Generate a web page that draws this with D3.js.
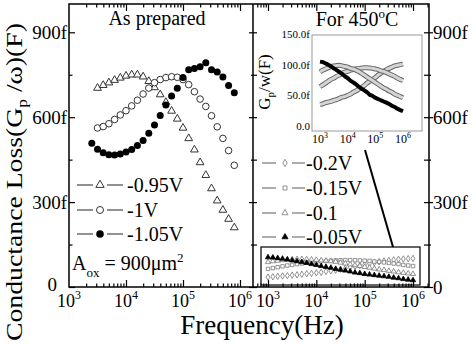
<!DOCTYPE html>
<html><head><meta charset="utf-8">
<script src="https://cdn.jsdelivr.net/npm/d3@7"></script>
<style>
body{margin:0;background:#fff}
svg{display:block}
text{font-family:"Liberation Serif","Times New Roman",serif;fill:#000}
</style>
</head><body>
<svg id="c" width="474" height="346"></svg>
<script>
// ---------- DATA ----------
// Left panel ("As prepared"), log10 of frequency (Hz)
const expLeftA = [3.5,3.6,3.7,3.8,3.9,4.0,4.1,4.2,4.3,4.4,4.5,4.6,4.7,4.8,4.9,5.0,5.1,5.2,5.3,5.4,5.5,5.6,5.7,5.8,5.9];
const expLeftB = [3.4,3.5,3.6,3.7,3.8,3.9,4.0,4.1,4.2,4.3,4.4,4.5,4.6,4.7,4.8,4.9,5.0,5.1,5.2,5.3,5.4,5.5,5.6,5.7,5.8,5.9];
// values in fF
const vNeg095 = [703,713,722,731,739,746,750,750,743,727,705,680,653,622,594,562,525,485,440,395,348,305,272,240,210];
const vNeg1   = [562,567,577,592,608,623,640,660,682,703,722,733,740,743,741,733,715,690,664,638,605,566,525,482,430];
const vNeg105 = [508,487,474,467,466,470,477,486,500,518,543,572,606,643,675,702,740,768,772,778,792,768,760,742,712,686];
const leftLabels = ["-0.95V","-1V","-1.05V"];

// Right panel ("For 450°C")
const expRight = [3.0,3.1,3.2,3.3,3.4,3.5,3.6,3.7,3.8,3.9,4.0,4.1,4.2,4.3,4.4,4.5,4.6,4.7,4.8,4.9,5.0,5.1,5.2,5.3,5.4,5.5,5.6,5.7,5.8,5.9,6.0];
const vNeg02  = [35,36,38,39,40,42,43,45,47,48,50,52,55,57,60,63,66,70,73,76,79,83,86,89,92,94,96,98,99,100,101];
const vNeg015 = [64,67,70,73,76,78,81,83,86,88,89,91,92,93,94,94.5,95,95,94.5,94,93,92,90,89,87,85,83,81,78,76,74];
const vNeg01  = [88,91,93,95,97,98,98.5,99,98,97,96,94,93,91,89,86,83,80,77,74,71,68,65,62,60,57,55,52,50,48,46];
const vNeg005 = [105,104,102,100,97,94,91,88,85,81,78,74,71,68,64,61,58,55,51,49,46,44,42,40,38,36,33,31,28,26,24];
const rightLabels = ["-0.2V","-0.15V","-0.1","-0.05V"];

// Axis tick labels
const yTicks = [0,300,600,900];
const yTickLabels = ["0","300f","600f","900f"];
const yMinor = [150,450,750];
const xMajorExp = [3,4,5,6];
const insetYTicks = [0,50,100,150];
const insetYLabels = ["0.0","50.0f","100.0f","150.0f"];

// ---------- SCALES ----------
const svg = d3.select("#c");
const y  = d3.scaleLinear().domain([0,1000]).range([287,4]);
const xL = d3.scaleLog().domain([1e3,1e6]).range([69,240]);
const xR = d3.scaleLog().domain([1e3,1e6]).range([268,413]);
const xI = d3.scaleLog().domain([1e3,1e6]).range([320,403]);
const yI = d3.scaleLinear().domain([0,150]).range([126,34]);
const P = e => Math.pow(10,e);

const FRAME = {l:69, r:429, t:4, b:287, div:253};

// ---------- AXES / TICKS ----------
function logTicks(scale, lo, hi, minor){
  const out=[];
  for(let k=2;k<=6;k++) for(let m=1;m<=9;m++){
    const v=m*Math.pow(10,k); const px=scale(v);
    if(px>lo+0.5 && px<hi-0.5 && ((m===1)!==minor)) out.push(v);
  }
  return out;
}
function xAxes(scale, lo, hi){
  const maj = logTicks(scale,lo,hi,false), min = logTicks(scale,lo,hi,true);
  [[maj,7],[min,3.5]].forEach(([vals,len])=>{
    const gb = svg.append("g").attr("transform",`translate(0,${FRAME.b})`)
      .call(d3.axisBottom(scale).tickValues(vals).tickSize(-len).tickFormat(""));
    const gt = svg.append("g").attr("transform",`translate(0,${FRAME.t})`)
      .call(d3.axisTop(scale).tickValues(vals).tickSize(-len).tickFormat(""));
    [gb,gt].forEach(g=>{g.select(".domain").remove(); g.selectAll("line").attr("stroke","#000").attr("stroke-width",1.2);});
  });
  xMajorExp.forEach(e=>{
    const t = svg.append("text").attr("x",scale(P(e))).attr("y",307).attr("text-anchor","middle").style("font-size","18px");
    t.append("tspan").text("10");
    t.append("tspan").attr("dy",-8).style("font-size","12px").text(String(e));
  });
}
xAxes(xL, FRAME.l, FRAME.div);
xAxes(xR, FRAME.div, FRAME.r);

function yAxis(x, gen, majLen, minLen){
  [[yTicks,majLen],[yMinor,minLen]].forEach(([vals,len])=>{
    const g = svg.append("g").attr("transform",`translate(${x},0)`)
      .call(gen(y).tickValues(vals).tickSize(len).tickFormat(""));
    g.select(".domain").remove();
    g.selectAll("line").attr("stroke","#000").attr("stroke-width",1.2);
  });
}
yAxis(FRAME.l, d3.axisLeft, -6, -3.5);
yAxis(FRAME.div+4, d3.axisLeft, 8, 6);
yAxis(FRAME.r-5, d3.axisRight, 9, 7);

yTicks.forEach((v,i)=>{
  svg.append("text").attr("x", v===0?57:67).attr("y",y(v)).attr("dy", v===0?"0.2em":"0.35em")
    .attr("text-anchor","end").style("font-size","19px").text(yTickLabels[i]);
  svg.append("text").attr("x",433).attr("y",y(v)).attr("dy","0.35em")
    .attr("text-anchor","start").style("font-size","19px").text(yTickLabels[i]);
});

// frame
svg.append("rect").attr("x",FRAME.l).attr("y",FRAME.t).attr("width",FRAME.r-FRAME.l).attr("height",FRAME.b-FRAME.t)
  .attr("fill","none").attr("stroke","#000").attr("stroke-width",1.5);
svg.append("line").attr("x1",FRAME.div).attr("x2",FRAME.div).attr("y1",FRAME.t).attr("y2",FRAME.b)
  .attr("stroke","#000").attr("stroke-width",1.5);

// axis titles
const yl = svg.append("text").attr("transform","translate(22,182) rotate(-90)").attr("text-anchor","middle")
  .style("font-size","24px").attr("textLength",318).attr("lengthAdjust","spacingAndGlyphs");
yl.append("tspan").text("Conductance Loss(G");
yl.append("tspan").attr("dy",5).style("font-size","15px").text("p");
yl.append("tspan").attr("dy",-5).text(" /ω)(F)");
svg.append("text").attr("x",262).attr("y",334).attr("text-anchor","middle").style("font-size","27px").text("Frequency(Hz)");

// panel titles
svg.append("text").attr("x",157).attr("y",25).attr("text-anchor","middle").style("font-size","20px").text("As prepared");
const t2 = svg.append("text").attr("x",357).attr("y",26).attr("text-anchor","middle").style("font-size","20px");
t2.append("tspan").text("For 450");
t2.append("tspan").attr("dy",-8).style("font-size","13px").text("o");
t2.append("tspan").attr("dy",8).text("C");

// ---------- LEFT PANEL DATA ----------
const tri = d3.symbol().type(d3.symbolTriangle);
const left = svg.append("g");
left.selectAll(".t").data(expLeftA.map((e,i)=>[e,vNeg095[i]])).join("path")
  .attr("d",tri.size(26)()).attr("transform",d=>`translate(${xL(P(d[0]))},${y(d[1])})`)
  .attr("fill","#fff").attr("stroke","#333").attr("stroke-width",1);
left.selectAll(".o").data(expLeftA.map((e,i)=>[e,vNeg1[i]])).join("circle")
  .attr("cx",d=>xL(P(d[0]))).attr("cy",d=>y(d[1])).attr("r",3.3)
  .attr("fill","#fff").attr("stroke","#333").attr("stroke-width",1);
left.selectAll(".f").data(expLeftB.map((e,i)=>[e,vNeg105[i]])).join("circle")
  .attr("cx",d=>xL(P(d[0]))).attr("cy",d=>y(d[1])).attr("r",3.5)
  .attr("fill","#000");

// left legend
const legRowsL = [185,210,234];
legRowsL.forEach((ry,i)=>{
  svg.append("line").attr("x1",77).attr("x2",93).attr("y1",ry).attr("y2",ry).attr("stroke","#555").attr("stroke-width",1.3);
  svg.append("line").attr("x1",107).attr("x2",123).attr("y1",ry).attr("y2",ry).attr("stroke","#555").attr("stroke-width",1.3);
  if(i===0) svg.append("path").attr("d",tri.size(30)()).attr("transform",`translate(100,${ry})`).attr("fill","#fff").attr("stroke","#333");
  if(i===1) svg.append("circle").attr("cx",100).attr("cy",ry).attr("r",3.5).attr("fill","#fff").attr("stroke","#333");
  if(i===2) svg.append("circle").attr("cx",100).attr("cy",ry).attr("r",3.8).attr("fill","#000");
  svg.append("text").attr("x",127).attr("y",ry).attr("dy","0.35em").style("font-size","20px").text(leftLabels[i]);
});
const ax = svg.append("text").attr("x",72).attr("y",270).style("font-size","20px");
ax.append("tspan").text("A");
ax.append("tspan").attr("dy",7).style("font-size","13px").text("ox");
ax.append("tspan").attr("dy",-7).text(" = 900μm");
ax.append("tspan").attr("dy",-8).style("font-size","13px").text("2");

// ---------- RIGHT PANEL ----------
const rSeries = [
  {vals:vNeg02, sym:d3.symbolDiamond, fill:"#fff", stroke:"#777"},
  {vals:vNeg015, sym:d3.symbolSquare, fill:"#fff", stroke:"#777"},
  {vals:vNeg01, sym:d3.symbolTriangle, fill:"#fff", stroke:"#777"},
  {vals:vNeg005, sym:d3.symbolTriangle, fill:"#000", stroke:"#000"}
];
// highlight box
svg.append("rect").attr("x",261).attr("y",247).attr("width",159).attr("height",38)
  .attr("fill","none").attr("stroke","#000").attr("stroke-width",1.2);
svg.append("line").attr("x1",365).attr("y1",150).attr("x2",393).attr("y2",247).attr("stroke","#000").attr("stroke-width",2);

rSeries.forEach(s=>{
  svg.append("g").selectAll("path").data(expRight.map((e,i)=>[e,s.vals[i]])).join("path")
    .attr("d",d3.symbol().type(s.sym).size(12)())
    .attr("transform",d=>`translate(${xR(P(d[0]))},${y(d[1])})`)
    .attr("fill",s.fill).attr("stroke",s.stroke).attr("stroke-width",0.8);
});

// right legend
const legRowsR = [163,188,213,237];
rSeries.forEach((s,i)=>{
  const ry = legRowsR[i];
  svg.append("line").attr("x1",262).attr("x2",276).attr("y1",ry).attr("y2",ry).attr("stroke","#777").attr("stroke-width",1.2);
  svg.append("line").attr("x1",292).attr("x2",305).attr("y1",ry).attr("y2",ry).attr("stroke","#777").attr("stroke-width",1.2);
  svg.append("path").attr("d",d3.symbol().type(s.sym).size(16)()).attr("transform",`translate(285,${ry})`)
    .attr("fill",s.fill).attr("stroke",s.stroke).attr("stroke-width",0.8);
  svg.append("text").attr("x",306).attr("y",ry).attr("dy","0.35em").style("font-size","20px").text(rightLabels[i]);
});

// ---------- INSET ----------
const inset = svg.append("g");
inset.append("rect").attr("x",312).attr("y",35).attr("width",110).attr("height",96)
  .attr("fill","#fff").attr("stroke","#999").attr("stroke-width",1);
const line = d3.line().x(d=>xI(P(d[0]))).y(d=>yI(d[1])).curve(d3.curveMonotoneX);
[vNeg02,vNeg015,vNeg01].forEach(vals=>{
  const pts = expRight.map((e,i)=>[e,vals[i]]);
  inset.append("path").attr("d",line(pts)).attr("fill","none").attr("stroke","#666").attr("stroke-width",5);
  inset.append("path").attr("d",line(pts)).attr("fill","none").attr("stroke","#d4d4d4").attr("stroke-width",3);
});
inset.append("path").attr("d",line(expRight.map((e,i)=>[e,vNeg005[i]]))).attr("fill","none").attr("stroke","#000").attr("stroke-width",4);
insetYTicks.forEach((v,i)=>{
  inset.append("text").attr("x",310).attr("y",yI(v)).attr("dy","0.35em").attr("text-anchor","end")
    .style("font-size","11px").text(insetYLabels[i]);
});
xMajorExp.forEach(e=>{
  const t = inset.append("text").attr("x",xI(P(e))).attr("y",143).attr("text-anchor","middle").style("font-size","12px");
  t.append("tspan").text("10");
  t.append("tspan").attr("dy",-5).style("font-size","8px").text(String(e));
});
const il = inset.append("text").attr("transform","translate(270,82) rotate(-90)").attr("text-anchor","middle").style("font-size","17px");
il.append("tspan").text("G");
il.append("tspan").attr("dy",4).style("font-size","11px").text("p");
il.append("tspan").attr("dy",-4).text("/w(F)");
</script>
</body></html>
